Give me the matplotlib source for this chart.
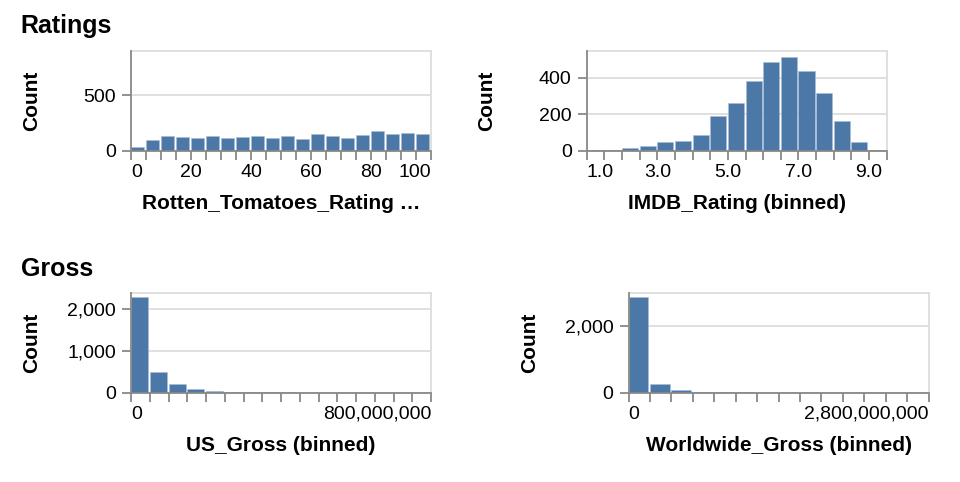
import matplotlib
matplotlib.use('Agg')
import matplotlib.pyplot as plt
import numpy as np

plt.rcParams['font.family'] = ['Liberation Sans', 'DejaVu Sans']

# ---------------- data ----------------
rt_edges = np.arange(0, 105, 5)            # Rotten_Tomatoes_Rating bins (step 5)
rt_counts = [36, 93, 135, 120, 114, 132, 111, 123, 132, 114,
             132, 102, 150, 129, 117, 141, 174, 150, 156, 150]
rt_labels = {0: '0', 20: '20', 40: '40', 60: '60', 80: '80', 100: '100'}

imdb_edges = np.round(np.arange(1.0, 10.0, 0.5), 1)   # IMDB_Rating bins (step 0.5)
imdb_counts = [2, 5, 17, 28, 48, 56, 88, 192, 261, 385, 490, 514, 441, 315, 164, 47, 6]
imdb_labels = {1.0: '1.0', 3.0: '3.0', 5.0: '5.0', 7.0: '7.0', 9.0: '9.0'}

us_edges = np.arange(0, 850_000_000, 50_000_000)      # US_Gross bins (step 50M)
us_counts = [2297, 498, 217, 88, 48, 24, 24, 12, 12, 2, 1, 1, 0, 0, 0, 1]
us_labels = {0: '0', 800_000_000: '800,000,000'}

ww_edges = np.arange(0, 3_000_000_000, 200_000_000)  # Worldwide_Gross bins (step 200M)
ww_counts = [2872, 267, 72, 31, 20, 10, 3, 2, 1, 1, 0, 0, 0, 1]
ww_labels = {0: '0', 2_800_000_000: '2,800,000,000'}

# ---------------- style ----------------
W, H = 960, 482
BAR = '#4c78a8'
GRID = '#dddddd'
AXC = '#888888'
LW = 1.3
fig = plt.figure(figsize=(W / 100, H / 100), dpi=100)


def panel(x0, y0, edges, counts, ymax, yticks, xlabels, xtitle, ylab_x, w=300, h=100):
    ax = fig.add_axes([x0 / W, 1 - (y0 + h) / H, w / W, h / H])
    step = edges[1] - edges[0]
    bin_px = w / len(counts)
    ax.bar(edges[:-1], counts, width=step * (1 - 1.6 / bin_px), align='edge',
           color=BAR, edgecolor='#a9bdd6', linewidth=0.4, zorder=2)
    ax.set_xlim(edges[0], edges[-1])
    ax.set_ylim(0, ymax)
    ax.set_yticks(yticks)
    ax.set_yticklabels([f'{v:,}' for v in yticks])
    ax.yaxis.grid(True, color=GRID, lw=LW, zorder=0)
    ax.set_axisbelow(True)
    ax.set_xticks(edges)
    labs = []
    for e in edges:
        key = float(np.round(e, 1)) if isinstance(e, (float, np.floating)) else int(e)
        labs.append(xlabels.get(key, ''))
    ax.set_xticklabels(labs)
    tl = ax.get_xticklabels()
    # flush first / last labels
    if labs[0]:
        tl[0].set_ha('left')
    if labs[-1]:
        tl[-1].set_ha('right')
    for s in ('top', 'right'):
        ax.spines[s].set_color(GRID)
        ax.spines[s].set_linewidth(LW)
    for s in ('bottom', 'left'):
        ax.spines[s].set_color(AXC)
        ax.spines[s].set_linewidth(LW)
        ax.spines[s].set_zorder(3)
    ax.tick_params(axis='both', direction='out', length=6.8, width=LW, color=AXC,
                   labelsize=14, labelcolor='black')
    ax.tick_params(axis='x', pad=2.5)
    ax.tick_params(axis='y', pad=4)
    fig.text((x0 + w / 2) / W, 1 - (y0 + 158) / H, xtitle, ha='center', va='baseline',
             fontsize=15, fontweight='bold')
    fig.text(ylab_x / W, 1 - (y0 + h / 2) / H, 'Count', rotation=90, ha='center',
             va='center', fontsize=15, fontweight='bold')
    return ax


panel(131, 50.7, rt_edges, rt_counts, 900, [0, 500], rt_labels,
      'Rotten_Tomatoes_Rating \u2026', 31.5)
panel(586.7, 50.7, imdb_edges, imdb_counts, 550, [0, 200, 400], imdb_labels,
      'IMDB_Rating (binned)', 487)
panel(131, 292.7, us_edges, us_counts, 2400, [0, 1000, 2000], us_labels,
      'US_Gross (binned)', 31.5)
panel(628.5, 292.7, ww_edges, ww_counts, 3000, [0, 2000], ww_labels,
      'Worldwide_Gross (binned)', 530)

fig.text(20.5 / W, 1 - 33.5 / H, 'Ratings', ha='left', va='baseline',
         fontsize=18, fontweight='bold')
fig.text(20.5 / W, 1 - 275.5 / H, 'Gross', ha='left', va='baseline',
         fontsize=18, fontweight='bold')

fig.savefig('out.png', dpi=100)
